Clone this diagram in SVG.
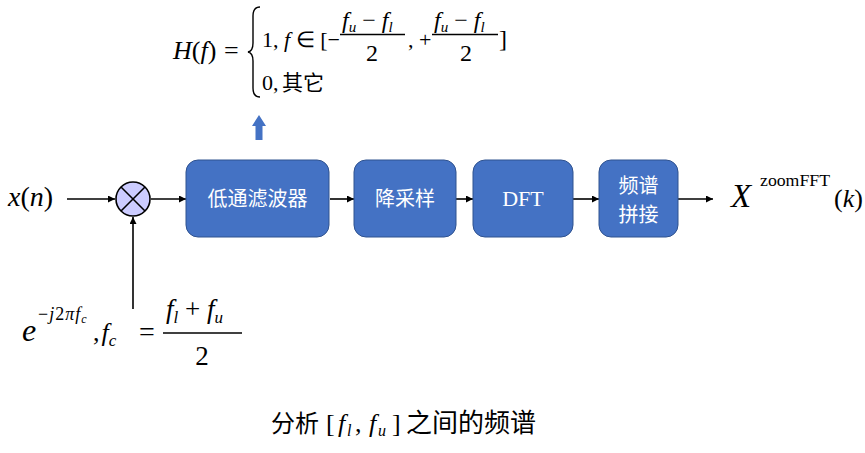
<svg xmlns="http://www.w3.org/2000/svg" width="865" height="453" viewBox="0 0 865 453">
<defs>
<marker id="ah" viewBox="0 0 10 10" refX="10" refY="5" markerWidth="7" markerHeight="7" markerUnits="userSpaceOnUse" orient="auto">
<path d="M0,0 L10,5 L0,10 z" fill="#000"/>
</marker>
<style>
.box{fill:#4472C4;stroke:#2F528F;stroke-width:1}
.ln{stroke:#000;stroke-width:1.6;fill:none}
.serif{font-family:'Liberation Serif','Times New Roman',Times,serif}
.cjk{font-family:'Noto Sans CJK SC','Noto Sans',sans-serif}
</style>
</defs>
<rect width="865" height="453" fill="#fff"/>

<g id="connectors">
<line class="ln" x1="67" y1="199" x2="115" y2="199" marker-end="url(#ah)"/>
<line class="ln" x1="151" y1="199" x2="186" y2="199" marker-end="url(#ah)"/>
<line class="ln" x1="330" y1="199" x2="354" y2="199" marker-end="url(#ah)"/>
<line class="ln" x1="456" y1="199" x2="473" y2="199" marker-end="url(#ah)"/>
<line class="ln" x1="573" y1="199" x2="599" y2="199" marker-end="url(#ah)"/>
<line class="ln" x1="678" y1="199" x2="713" y2="199" marker-end="url(#ah)"/>
<line class="ln" x1="133" y1="309" x2="133" y2="217" marker-end="url(#ah)"/>
</g>

<g id="mixer">
<circle cx="133" cy="199" r="17" fill="#CCCCFF" stroke="#000" stroke-width="1.6"/>
<line class="ln" x1="121" y1="187" x2="145" y2="211"/>
<line class="ln" x1="145" y1="187" x2="121" y2="211"/>
</g>

<g id="lpf" class="cjk" font-size="20" fill="#fff" text-anchor="middle">
<rect class="box" x="186" y="160" width="143" height="77" rx="12"/>
<text x="257.5" y="206">低通滤波器</text>
</g>
<g id="decim" class="cjk" font-size="20" fill="#fff" text-anchor="middle">
<rect class="box" x="354" y="160" width="102" height="77" rx="12"/>
<text x="405" y="206">降采样</text>
</g>
<g id="dft" class="serif" font-size="22" fill="#fff" text-anchor="middle">
<rect class="box" x="473" y="160" width="100" height="77" rx="12"/>
<text x="523" y="206">DFT</text>
</g>
<g id="splice" class="cjk" font-size="20" fill="#fff" text-anchor="middle">
<rect class="box" x="599" y="160" width="79" height="77" rx="12"/>
<text x="638.5" y="193">频谱</text>
<text x="638.5" y="222">拼接</text>
</g>

<g id="uparrow">
<path d="M255.5,140 L255.5,126 L252,126 L259,115 L266,126 L262.5,126 L262.5,140 z" fill="#4472C4"/>
</g>

<g class="serif" fill="#000">
<g id="input">
<text x="8" y="206" font-size="28"><tspan font-style="italic">x</tspan>(<tspan font-style="italic">n</tspan>)</text>
</g>

<g id="output">
<text x="731" y="207" font-size="33" font-style="italic">X</text>
<text x="760" y="186" font-size="16" textLength="70" lengthAdjust="spacingAndGlyphs">zoomFFT</text>
<text x="834" y="207" font-size="26">(<tspan font-style="italic">k</tspan>)</text>
</g>

<g id="hf">
<text x="173" y="59" font-size="26"><tspan font-style="italic">H</tspan>(<tspan font-style="italic">f</tspan>)</text>
<text x="224" y="59" font-size="26">=</text>
<path d="M260,7 Q253,7 253,16 L253,43 Q253,51 248,52 Q253,53 253,61 L253,88 Q253,97 260,97" fill="none" stroke="#000" stroke-width="1.4"/>
<text x="262" y="47" font-size="22">1, <tspan font-style="italic">f</tspan> ∈ [−</text>
<text x="342" y="28" font-size="24"><tspan font-style="italic">f</tspan><tspan font-style="italic" font-size="15" dy="4">u</tspan><tspan dy="-4"> − </tspan><tspan font-style="italic">f</tspan><tspan font-style="italic" font-size="15" dy="4">l</tspan></text>
<line x1="340" y1="34.5" x2="405" y2="34.5" stroke="#000" stroke-width="1.3"/>
<text x="372" y="61" font-size="24" text-anchor="middle">2</text>
<text x="408" y="47" font-size="22">, +</text>
<text x="434" y="28" font-size="24"><tspan font-style="italic">f</tspan><tspan font-style="italic" font-size="15" dy="4">u</tspan><tspan dy="-4"> − </tspan><tspan font-style="italic">f</tspan><tspan font-style="italic" font-size="15" dy="4">l</tspan></text>
<line x1="432" y1="34.5" x2="498" y2="34.5" stroke="#000" stroke-width="1.3"/>
<text x="466" y="61" font-size="24" text-anchor="middle">2</text>
<text x="499" y="47" font-size="24">]</text>
<text x="262" y="90" font-size="22">0,</text>
<text x="282" y="90" font-size="21" class="cjk">其它</text>
</g>

<g id="lo">
<text x="22" y="341" font-size="32" font-style="italic">e</text>
<text x="38" y="320" font-size="18" letter-spacing="1">−<tspan font-style="italic">j</tspan>2<tspan font-style="italic">πf</tspan><tspan font-style="italic" font-size="12" dy="3">c</tspan></text>
<text x="93" y="341" font-size="26">,<tspan font-style="italic" dx="2">f</tspan><tspan font-style="italic" font-size="17" dy="5">c</tspan></text>
<text x="139" y="341" font-size="28">=</text>
<text x="166" y="318" font-size="27"><tspan font-style="italic">f</tspan><tspan font-style="italic" font-size="17" dy="5">l</tspan><tspan dy="-5"> + </tspan><tspan font-style="italic">f</tspan><tspan font-style="italic" font-size="17" dy="5">u</tspan></text>
<line x1="163" y1="333" x2="242" y2="333" stroke="#000" stroke-width="1.4"/>
<text x="202" y="365" font-size="27" text-anchor="middle">2</text>
</g>

<g id="caption">
<text x="271" y="432" font-size="24" class="cjk">分析</text>
<text x="326" y="432" font-size="26">[</text>
<text x="338" y="432" font-size="26" font-style="italic">f</text>
<text x="347" y="436" font-size="16" font-style="italic">l</text>
<text x="355" y="432" font-size="26">,</text>
<text x="369" y="432" font-size="26" font-style="italic">f</text>
<text x="378" y="436" font-size="16" font-style="italic">u</text>
<text x="392" y="432" font-size="26">]</text>
<text x="406" y="432" font-size="26" class="cjk">之间的频谱</text>
</g>
</g>
</svg>
